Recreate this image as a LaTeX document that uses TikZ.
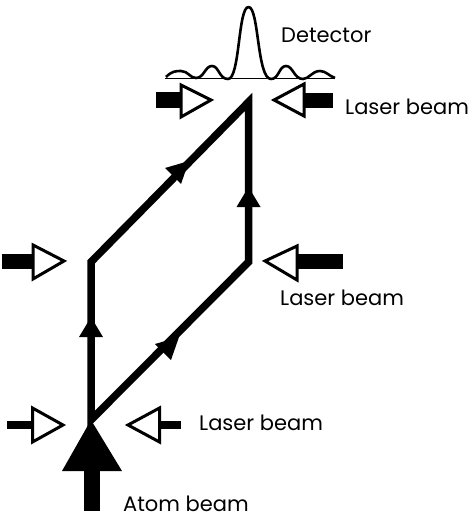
\documentclass[tikz,border=0pt]{standalone}
\usepackage{fontspec}
\setmainfont{Poppins}
\tikzset{
  beam/.style={line width=7.5pt,line join=miter,black},
  stem/.style={fill=black,draw=none},
  hollow/.style={draw=black,fill=white,line width=3pt,line join=miter},
  lbl/.style={inner sep=0pt,anchor=west,font=\fontsize{21}{25}\selectfont,text=black},
  curve/.style={draw=black,line width=2.6pt,line join=round},
  base/.style={draw=black,line width=0.8pt},
  tip/.style={fill=black,draw=none}
}
\begin{document}
\begin{tikzpicture}[x=1pt,y=-1pt]
\useasboundingbox (0,0) rectangle (474,519);
% path vertices
\coordinate (src) at (91,420);
\coordinate (left) at (91,262);
\coordinate (right) at (248.5,262);
\coordinate (top) at (248.5,102);
\coordinate (basea) at (165,78);
\coordinate (baseb) at (335,78);
% beams
\draw[beam] (src) -- (left) -- (top) -- (right) -- cycle;
% direction tips
\fill[tip] (91,317) -- (103,337) -- (79,337) -- cycle;
\fill[tip] (248.5,187) -- (260.5,207) -- (236.5,207) -- cycle;
\fill[tip] (189,161) -- (181,184) -- (165,168) -- cycle;
\fill[tip] (179,337) -- (171,360) -- (155,344) -- cycle;
% atom beam
\fill[stem] (84,470) rectangle (100,511);
\fill[tip] (91,420) -- (122,471) -- (62,471) -- cycle;
% detector
\draw[base] (basea) -- (baseb);
\draw[curve] (166,77) .. controls (172,71) and (176,71) .. (181,71)
  .. controls (188,71) and (190,78) .. (196,78)
  .. controls (204,78) and (205,66) .. (212,66)
  .. controls (219,66) and (219,79) .. (228,79)
  .. controls (240,79) and (238,7) .. (248.5,7)
  .. controls (259,7) and (257,79) .. (271,79)
  .. controls (279,79) and (279,66) .. (286,66)
  .. controls (293,66) and (294,79) .. (303,79)
  .. controls (309,79) and (312,71) .. (320,71)
  .. controls (326,71) and (329,76) .. (335,78);
% lasers
\fill[stem] (156,92) rectangle (182,108);
\draw[hollow] (181,85) -- (211,100) -- (181,117) -- cycle;
\fill[stem] (304,93) rectangle (333,108);
\draw[hollow] (304,84) -- (274,100) -- (304,116) -- cycle;
\fill[stem] (2,254) rectangle (34,269);
\draw[hollow] (33,245) -- (64,261) -- (33,279) -- cycle;
\fill[stem] (297,254) rectangle (343,269);
\draw[hollow] (297,246) -- (265,261) -- (297,280) -- cycle;
\fill[stem] (7,421) rectangle (33,429);
\draw[hollow] (32.5,408) -- (63,425) -- (32.5,442) -- cycle;
\fill[stem] (159,421) rectangle (181,429);
\draw[hollow] (159.5,408) -- (128,425) -- (159.5,442) -- cycle;
% labels
\node[lbl] (det) at (281,35) {Detector};
\node[lbl] (la) at (345,107) {Laser beam};
\node[lbl] (lb) at (280,298) {Laser beam};
\node[lbl] (lc) at (199,423) {Laser beam};
\node[lbl] (atom) at (123,504) {Atom beam};
\end{tikzpicture}
\end{document}
